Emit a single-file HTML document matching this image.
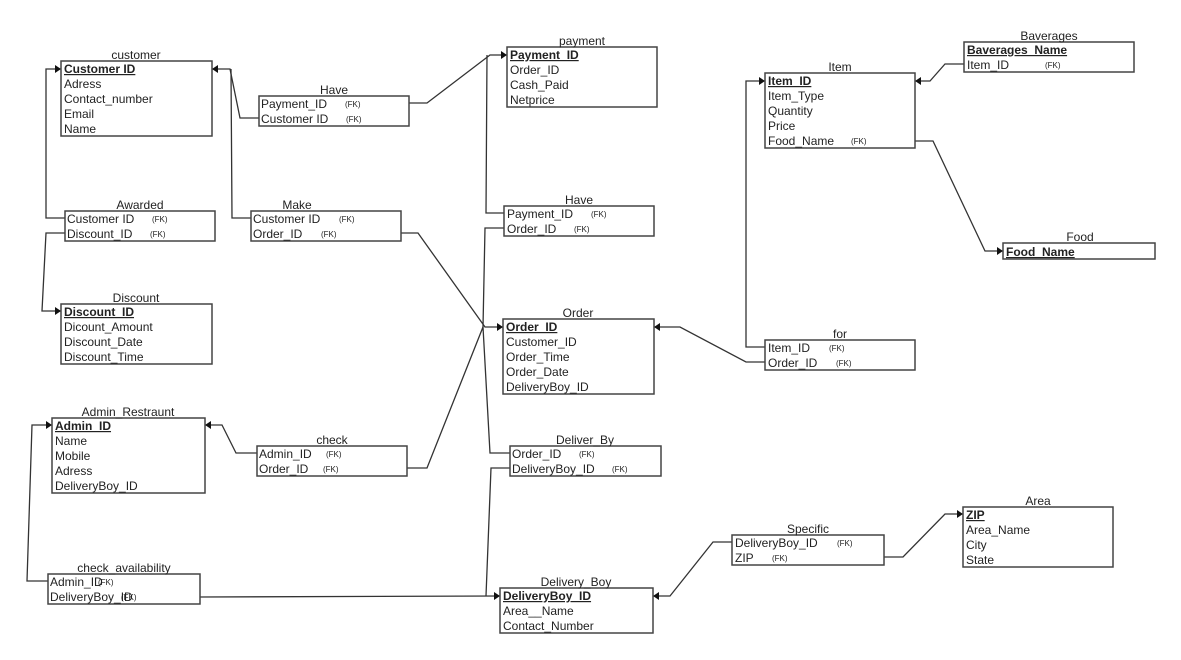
<!DOCTYPE html>
<html><head><meta charset="utf-8"><style>
html,body{margin:0;padding:0;background:#fff}
svg{display:block}
text{font-family:"Liberation Sans",Arial,sans-serif;fill:#222}
.t{font-size:12px;text-anchor:middle}
.f{font-size:12px}
.k{font-size:12px;font-weight:bold;text-decoration:underline}
.fk{font-size:8px}
rect{fill:#fff;stroke:#444;stroke-width:1.5}
.l{fill:none;stroke:#333;stroke-width:1.3}
</style></head><body>
<svg width="1181" height="660" viewBox="0 0 1181 660" xmlns="http://www.w3.org/2000/svg">
<defs><marker id="a" markerWidth="8" markerHeight="8" refX="6" refY="4" orient="auto" markerUnits="userSpaceOnUse"><path d="M0,0 L6,4 L0,8 Z" fill="#111"/></marker></defs>

<!-- connectors -->
<polyline class="l" marker-end="url(#a)" points="65,218 46,218 46,69 61,69"/>
<polyline class="l" marker-end="url(#a)" points="259,118 240,118 230,69 212,69"/>
<polyline class="l" points="251,218 232,218 231,69"/>
<polyline class="l" marker-end="url(#a)" points="409,103 427,103 490,55 507,55"/>
<polyline class="l" points="504,213 486,213 487,55"/>
<polyline class="l" marker-end="url(#a)" points="65,233 46,233 42,311 61,311"/>
<polyline class="l" marker-end="url(#a)" points="401,233 418,233 485,327 503,327"/>
<polyline class="l" points="504,228 485,228 483,327"/>
<polyline class="l" points="407,468 427,468 483,327"/>
<polyline class="l" points="510,453 490,453 483,327"/>
<polyline class="l" marker-end="url(#a)" points="765,362 746,362 680,327 654,327"/>
<polyline class="l" marker-end="url(#a)" points="765,347 746,347 746,81 765,81"/>
<polyline class="l" marker-end="url(#a)" points="964,64 945,64 930,81 915,81"/>
<polyline class="l" marker-end="url(#a)" points="915,141 933,141 985,251 1003,251"/>
<polyline class="l" marker-end="url(#a)" points="48,581 27,581 32,425 52,425"/>
<polyline class="l" marker-end="url(#a)" points="257,453 236,453 222,425 205,425"/>
<polyline class="l" marker-end="url(#a)" points="200,597 500,596"/>
<polyline class="l" points="510,468 491,468 486,596"/>
<polyline class="l" marker-end="url(#a)" points="732,542 713,542 670,596 653,596"/>
<polyline class="l" marker-end="url(#a)" points="884,557 903,557 945,514 963,514"/>

<!-- customer -->
<rect x="61" y="61" width="151" height="75"/>
<text class="t" x="136" y="59">customer</text>
<text class="k" x="64" y="73">Customer ID</text>
<text class="f" x="64" y="88">Adress</text>
<text class="f" x="64" y="103">Contact_number</text>
<text class="f" x="64" y="118">Email</text>
<text class="f" x="64" y="133">Name</text>

<!-- Have1 -->
<rect x="259" y="96" width="150" height="30"/>
<text class="t" x="334" y="94">Have</text>
<text class="f" x="261" y="108">Payment_ID</text><text class="fk" x="345" y="107">(FK)</text>
<text class="f" x="261" y="123">Customer ID</text><text class="fk" x="346" y="122">(FK)</text>

<!-- Awarded -->
<rect x="65" y="211" width="150" height="30"/>
<text class="t" x="140" y="209">Awarded</text>
<text class="f" x="67" y="223">Customer ID</text><text class="fk" x="152" y="222">(FK)</text>
<text class="f" x="67" y="238">Discount_ID</text><text class="fk" x="150" y="237">(FK)</text>

<!-- Make -->
<rect x="251" y="211" width="150" height="30"/>
<text class="t" x="297" y="209">Make</text>
<text class="f" x="253" y="223">Customer ID</text><text class="fk" x="339" y="222">(FK)</text>
<text class="f" x="253" y="238">Order_ID</text><text class="fk" x="321" y="237">(FK)</text>

<!-- Discount -->
<rect x="61" y="304" width="151" height="60"/>
<text class="t" x="136" y="302">Discount</text>
<text class="k" x="64" y="316">Discount_ID</text>
<text class="f" x="64" y="331">Dicount_Amount</text>
<text class="f" x="64" y="346">Discount_Date</text>
<text class="f" x="64" y="361">Discount_Time</text>

<!-- payment -->
<rect x="507" y="47" width="150" height="60"/>
<text class="t" x="582" y="45">payment</text>
<text class="k" x="510" y="59">Payment_ID</text>
<text class="f" x="510" y="74">Order_ID</text>
<text class="f" x="510" y="89">Cash_Paid</text>
<text class="f" x="510" y="104">Netprice</text>

<!-- Have2 -->
<rect x="504" y="206" width="150" height="30"/>
<text class="t" x="579" y="204">Have</text>
<text class="f" x="507" y="218">Payment_ID</text><text class="fk" x="591" y="217">(FK)</text>
<text class="f" x="507" y="233">Order_ID</text><text class="fk" x="574" y="232">(FK)</text>

<!-- Order -->
<rect x="503" y="319" width="151" height="75"/>
<text class="t" x="578" y="317">Order</text>
<text class="k" x="506" y="331">Order_ID</text>
<text class="f" x="506" y="346">Customer_ID</text>
<text class="f" x="506" y="361">Order_Time</text>
<text class="f" x="506" y="376">Order_Date</text>
<text class="f" x="506" y="391">DeliveryBoy_ID</text>

<!-- Item -->
<rect x="765" y="73" width="150" height="75"/>
<text class="t" x="840" y="71">Item</text>
<text class="k" x="768" y="85">Item_ID</text>
<text class="f" x="768" y="100">Item_Type</text>
<text class="f" x="768" y="115">Quantity</text>
<text class="f" x="768" y="130">Price</text>
<text class="f" x="768" y="145">Food_Name</text><text class="fk" x="851" y="144">(FK)</text>

<!-- Baverages -->
<rect x="964" y="42" width="170" height="30"/>
<text class="t" x="1049" y="40">Baverages</text>
<text class="k" x="967" y="54">Baverages_Name</text>
<text class="f" x="967" y="69">Item_ID</text><text class="fk" x="1045" y="68">(FK)</text>

<!-- Food -->
<rect x="1003" y="243" width="152" height="16"/>
<text class="t" x="1080" y="241">Food</text>
<text class="k" x="1006" y="256">Food_Name</text>

<!-- for -->
<rect x="765" y="340" width="150" height="30"/>
<text class="t" x="840" y="338">for</text>
<text class="f" x="768" y="352">Item_ID</text><text class="fk" x="829" y="351">(FK)</text>
<text class="f" x="768" y="367">Order_ID</text><text class="fk" x="836" y="366">(FK)</text>

<!-- Admin_Restraunt -->
<rect x="52" y="418" width="153" height="75"/>
<text class="t" x="128" y="416">Admin_Restraunt</text>
<text class="k" x="55" y="430">Admin_ID</text>
<text class="f" x="55" y="445">Name</text>
<text class="f" x="55" y="460">Mobile</text>
<text class="f" x="55" y="475">Adress</text>
<text class="f" x="55" y="490">DeliveryBoy_ID</text>

<!-- check -->
<rect x="257" y="446" width="150" height="30"/>
<text class="t" x="332" y="444">check</text>
<text class="f" x="259" y="458">Admin_ID</text><text class="fk" x="326" y="457">(FK)</text>
<text class="f" x="259" y="473">Order_ID</text><text class="fk" x="323" y="472">(FK)</text>

<!-- Deliver_By -->
<rect x="510" y="446" width="151" height="30"/>
<text class="t" x="585" y="444">Deliver_By</text>
<text class="f" x="512" y="458">Order_ID</text><text class="fk" x="579" y="457">(FK)</text>
<text class="f" x="512" y="473">DeliveryBoy_ID</text><text class="fk" x="612" y="472">(FK)</text>

<!-- check_availability -->
<rect x="48" y="574" width="152" height="30"/>
<text class="t" x="124" y="572">check_availability</text>
<text class="f" x="50" y="586">Admin_ID</text><text class="fk" x="98" y="585">(FK)</text>
<text class="f" x="50" y="601">DeliveryBoy_ID</text><text class="fk" x="121" y="600">(FK)</text>

<!-- Delivery_Boy -->
<rect x="500" y="588" width="153" height="45"/>
<text class="t" x="576" y="586">Delivery_Boy</text>
<text class="k" x="503" y="600">DeliveryBoy_ID</text>
<text class="f" x="503" y="615">Area__Name</text>
<text class="f" x="503" y="630">Contact_Number</text>

<!-- Specific -->
<rect x="732" y="535" width="152" height="30"/>
<text class="t" x="808" y="533">Specific</text>
<text class="f" x="735" y="547">DeliveryBoy_ID</text><text class="fk" x="837" y="546">(FK)</text>
<text class="f" x="735" y="562">ZIP</text><text class="fk" x="772" y="561">(FK)</text>

<!-- Area -->
<rect x="963" y="507" width="150" height="60"/>
<text class="t" x="1038" y="505">Area</text>
<text class="k" x="966" y="519">ZIP</text>
<text class="f" x="966" y="534">Area_Name</text>
<text class="f" x="966" y="549">City</text>
<text class="f" x="966" y="564">State</text>
</svg>
</body></html>
